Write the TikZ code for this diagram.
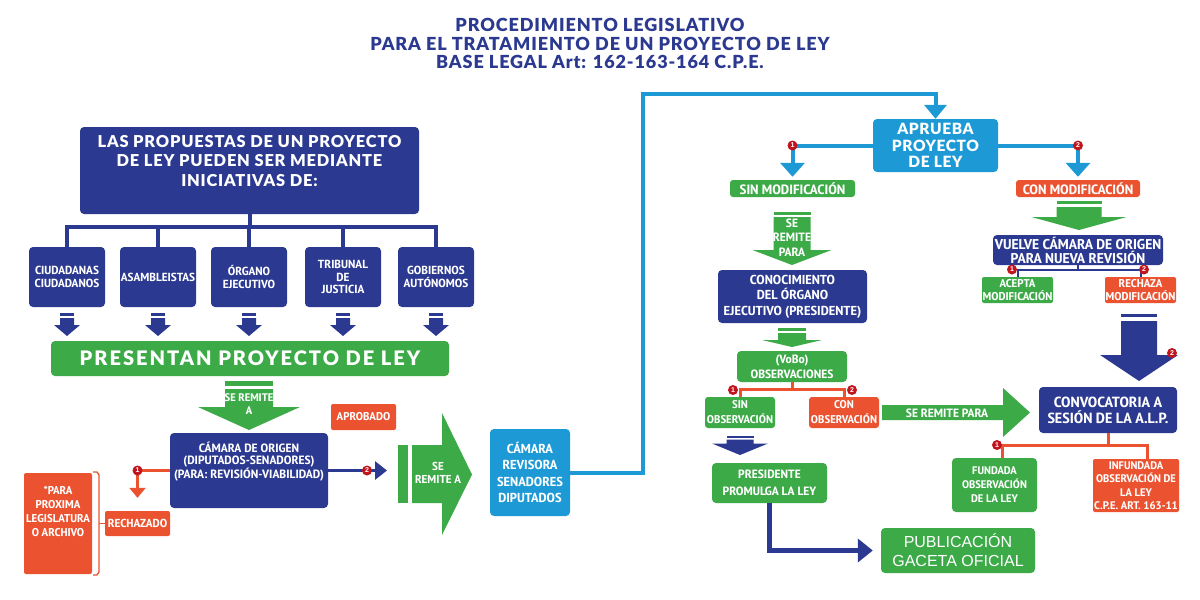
\documentclass[tikz,border=0pt]{standalone}
\usepackage{fontspec}
\setmainfont{Liberation Sans}
\newfontfamily\cnd{PT Sans Narrow}[UprightFont=* Bold, FakeStretch=1.16]
\newfontfamily\hvy{Lato}[UprightFont=* Black]
\usetikzlibrary{arrows.meta}
\definecolor{cnavy}{HTML}{2B3990}
\definecolor{cgreen}{HTML}{3DAA48}
\definecolor{corange}{HTML}{EA5230}
\definecolor{cblue}{HTML}{1D9AD6}
\definecolor{cred}{HTML}{C1151E}
\newcommand\fsz[2]{\fontsize{#1pt}{#2pt}\selectfont}
\newcommand\lsp[1]{\addfontfeature{LetterSpace=#1}}
% block arrow pointing down: colour, cx, bar top, bar bottom, shaft top, head top, tip, shaft half width, head half width
\newcommand\dnarrow[9]{%
  \fill[#1] (#2-#8,#3) rectangle (#2+#8,#4);
  \fill[#1] (#2-#8,#5) -- (#2+#8,#5) -- (#2+#8,#6) -- (#2+#9,#6) -- (#2,#7) -- (#2-#9,#6) -- (#2-#8,#6) -- cycle;}
\begin{document}
\begin{tikzpicture}[x=1pt,y=-1pt,
  box/.style={rounded corners=4pt, inner sep=0pt, align=center, text=white},
  nb/.style={box, fill=cnavy},
  gb/.style={box, fill=cgreen},
  ob/.style={box, fill=corange},
  lb/.style={box, fill=cblue},
  wh/.style 2 args={minimum width=#1pt, minimum height=#2pt},
  ini/.style={nb, wh={76}{60}, font=\cnd\fsz{11.7}{13.5}},
  arrtext/.style={text=white, align=center, inner sep=0pt},
  badge/.style={circle, fill=cred, inner sep=0pt, minimum size=10pt, text=white, font=\bfseries\fsz{7}{7}},
  tree/.style={draw=cnavy, line width=4pt},
  oln/.style={draw=corange, line width=3pt},
  bln/.style={draw=cblue, line width=4pt},
  nln/.style={draw=cnavy, line width=3pt},
]
\useasboundingbox (0,0) rectangle (1200,600);
\fill[white] (0,0) rectangle (1200,600);

% ---------- title
\node[text=cnavy, font=\hvy\fsz{18}{18.6}\lsp{5}, align=center] (title) at (600,43.5)
  {PROCEDIMIENTO LEGISLATIVO\\PARA EL TRATAMIENTO DE UN PROYECTO DE LEY\\BASE LEGAL Art: 162-163-164 C.P.E.};

% ---------- left part
\node[nb, wh={339}{87}, label={[text=white, font=\hvy\fsz{16.4}{19.5}\lsp{5}, align=center, anchor=center, yshift=9.5pt]center:{LAS PROPUESTAS DE UN PROYECTO\\DE LEY PUEDEN SER MEDIANTE\\INICIATIVAS DE:}}] (prop) at (249.5,170.5) {};

\node[ini] (c1) at (67,277) {CIUDADANAS\\CIUDADANOS};
\node[ini] (c2) at (158,277) {ASAMBLEISTAS};
\node[ini] (c3) at (249,277) {ÓRGANO\\EJECUTIVO};
\node[ini, font=\cnd\fsz{11.7}{12.5}] (c4) at (343,277) {TRIBUNAL\\DE\\JUSTICIA};
\node[ini] (c5) at (436,277) {GOBIERNOS\\AUTÓNOMOS};

\coordinate (tj) at (249.5,227);
\draw[tree] (prop.south) -- (tj);
\draw[tree] (c1.north) |- (c5.north |- tj) -- (c5.north);
\draw[tree] (c2.north) -- (c2.north |- tj);
\draw[tree] (c3.north) -- (c3.north |- tj);
\draw[tree] (c4.north) -- (c4.north |- tj);

\foreach \cx in {67,158,249,343,436} {\dnarrow{cnavy}{\cx}{313}{316}{318}{325}{336}{7}{13}}

\node[gb, wh={398}{35}, font=\hvy\fsz{20}{20}\lsp{10}] (presentan) at (250,358.5) {PRESENTAN PROYECTO DE LEY};

\dnarrow{cgreen}{249}{381}{386}{389}{407}{430}{24}{51}
\node[arrtext, font=\cnd\fsz{11}{13}] (t1) at (249,404.5) {SE REMITE\\A};

\node[ob, wh={65}{26}, rounded corners=2pt, font=\cnd\fsz{11.3}{13}] (aprob) at (363.5,417) {APROBADO};

\node[nb, wh={158}{75}, label={[text=white, font=\cnd\fsz{12}{12.5}, align=center, anchor=center, yshift=9pt]center:{CÁMARA DE ORIGEN\\(DIPUTADOS-SENADORES)\\(PARA: REVISIÓN-VIABILIDAD)}}] (co) at (249,470.5) {};

\node[ob, wh={65}{25}, rounded corners=2pt, font=\cnd\fsz{11.6}{13}] (rech) at (137.5,523.5) {RECHAZADO};
\node[ob, wh={68}{101}, rounded corners=2pt, label={[text=white, font=\cnd\fsz{11.3}{14}, align=center, anchor=center, yshift=12.5pt]center:{*PARA\\PROXIMA\\LEGISLATURA\\O ARCHIVO}}] (arch) at (58,523.5) {};

\draw[corange, line width=1.3pt] (93,472) -- (97,472) -- (99,475) -- (99,572) -- (97,575) -- (93,575);
\coordinate (brk) at (99,523.5);
\draw[corange, line width=1.3pt] (brk) -- (rech.west);

\draw[oln, -{Triangle[width=16pt,length=10pt]}, shorten >=13pt] (co.west) -| (rech.north);
\node[badge] (b1) at (137.5,470.5) {1};

\coordinate (bigA) at (398,470.5);
\draw[nln, -{Triangle[width=18pt,length=12pt]}, shorten >=11pt] (co.east) -- (bigA);
\node[badge] (b2) at (367,470.5) {2};

% big green arrow
\fill[cgreen] (398,445) rectangle (408,503);
\fill[cgreen] (412,445) -- (442,445) -- (442,413) -- (472,474.5) -- (442,535) -- (442,503) -- (412,503) -- cycle;
\node[arrtext, font=\cnd\fsz{11.5}{12.5}] (t2) at (438,473) {SE\\REMITE A};

\node[lb, wh={80}{87}, font=\cnd\fsz{13}{16.3}] (cr) at (530,472.5) {CÁMARA\\REVISORA\\SENADORES\\DIPUTADOS};

% ---------- right part
\node[lb, wh={125}{53}, font=\hvy\fsz{15.5}{16.5}\lsp{4}] (apr) at (935.5,145.5) {APRUEBA\\PROYECTO\\DE LEY};
\draw[bln, -{Triangle[width=22pt,length=14pt]}] (cr.east) -- ++(73,0) |- ([yshift=25pt]apr.north) -- (apr.north);

\node[gb, wh={125}{17}, rounded corners=3pt, font=\cnd\fsz{13.5}{14}] (sinmod) at (792.5,188.5) {SIN MODIFICACIÓN};
\node[ob, wh={124}{17}, rounded corners=3pt, font=\cnd\fsz{13.5}{14}] (conmod) at (1078,188.5) {CON MODIFICACIÓN};
\draw[bln, -{Triangle[width=24pt,length=14pt]}, shorten >=3pt] (apr.west) -| (sinmod.north);
\draw[bln, -{Triangle[width=24pt,length=14pt]}, shorten >=3pt] (apr.east) -| (conmod.north);
\node[badge] (b3) at (792.5,145.5) {1};
\node[badge] (b4) at (1078,145.5) {2};

% sin modificación branch
\dnarrow{cgreen}{792}{212}{215}{217}{250}{265}{18.5}{39.5}
\node[arrtext, font=\cnd\fsz{12}{14.5}] (t3) at (792,237.5) {SE\\REMITE\\PARA};

\node[nb, wh={149}{53}, font=\cnd\fsz{13}{15.5}] (conoc) at (792.5,296.5) {CONOCIMIENTO\\DEL ÓRGANO\\EJECUTIVO (PRESIDENTE)};
\dnarrow{cgreen}{792}{328}{331}{333}{340}{347}{14}{30}

\node[gb, wh={110}{31}, font=\cnd\fsz{12}{15}] (vobo) at (792,366.5) {(VoBo)\\OBSERVACIONES};
\node[gb, wh={70}{31}, rounded corners=3pt, font=\cnd\fsz{11.2}{15}] (sinobs) at (740,412.5) {SIN\\OBSERVACIÓN};
\node[ob, wh={70}{31}, rounded corners=3pt, font=\cnd\fsz{11.2}{15}] (conobs) at (844,412.5) {CON\\OBSERVACIÓN};
\draw[oln] (vobo.south) -- ++(0,7) coordinate (vj);
\draw[oln] (sinobs.north) |- (conobs.north |- vj) -- (conobs.north);
\node[badge] (b5) at (733,390) {1};
\node[badge] (b6) at (852,390) {2};

% navy arrow below sin observación
\dnarrow{cnavy}{740}{435.5}{437.5}{439.5}{443.5}{455}{13.5}{28}

\node[gb, wh={115}{40}, font=\cnd\fsz{12}{17}] (presid) at (769.5,483) {PRESIDENTE\\PROMULGA LA LEY};
\node[gb, wh={154}{45}, font=\fsz{16}{19}] (pub) at (958,550.5) {PUBLICACIÓN\\GACETA OFICIAL};
\draw[cnavy, line width=5pt, -{Triangle[width=23pt,length=15pt]}, shorten >=8pt] (presid.south) |- (pub.west);

% se remite para -> convocatoria
\fill[cgreen] (882,405) -- (1003,405) -- (1003,388) -- (1030,412.5) -- (1003,437) -- (1003,420) -- (882,420) -- cycle;
\node[arrtext, font=\cnd\fsz{12}{14}] (t4) at (947,413) {SE REMITE PARA};

\node[nb, wh={138}{46}, font=\cnd\fsz{14.7}{16}] (conv) at (1108,410) {CONVOCATORIA A\\SESIÓN DE LA A.L.P.};
\node[gb, wh={85}{54}, font=\cnd\fsz{11}{14}] (fund) at (994.5,485) {FUNDADA\\OBSERVACIÓN\\DE LA LEY};
\node[ob, wh={86}{53}, rounded corners=2pt, font=\cnd\fsz{11}{13.5}] (infund) at (1136,485.5) {INFUNDADA\\OBSERVACIÓN DE\\LA LEY\\C.P.E. ART. 163-11};
\draw[oln] (conv.south) -- ++(0,12) coordinate (cj);
\draw[oln] ([xshift=8pt]fund.north) |- ([xshift=11pt]infund.north |- cj) -- ([xshift=11pt]infund.north);
\node[badge] (b7) at (997,445) {1};

% con modificación branch
\dnarrow{cgreen}{1079}{201}{204}{207}{217}{230}{22.5}{47.5}
\node[nb, wh={170}{30}, font=\cnd\fsz{14.2}{14}] (vuelve) at (1078,250) {VUELVE CÁMARA DE ORIGEN\\PARA NUEVA REVISIÓN};
\node[gb, wh={71}{26}, rounded corners=2pt, font=\cnd\fsz{11.3}{13}] (acepta) at (1017.5,290) {ACEPTA\\MODIFICACIÓN};
\node[ob, wh={71}{26}, rounded corners=2pt, font=\cnd\fsz{11.3}{13}] (rechaza) at (1140.5,290) {RECHAZA\\MODIFICACIÓN};
\draw[cnavy, line width=2pt] (vuelve.south) -- ++(0,5) coordinate (vj2);
\draw[cnavy, line width=2pt] (acepta.north) |- (rechaza.north |- vj2) -- (rechaza.north);
\node[badge] (b8) at (1012,269.5) {1};
\node[badge] (b9) at (1144,269.5) {2};

\dnarrow{cnavy}{1139}{314}{317}{321}{355}{381}{18}{39}
\node[badge] (b10) at (1172,353) {2};
\end{tikzpicture}
\end{document}
